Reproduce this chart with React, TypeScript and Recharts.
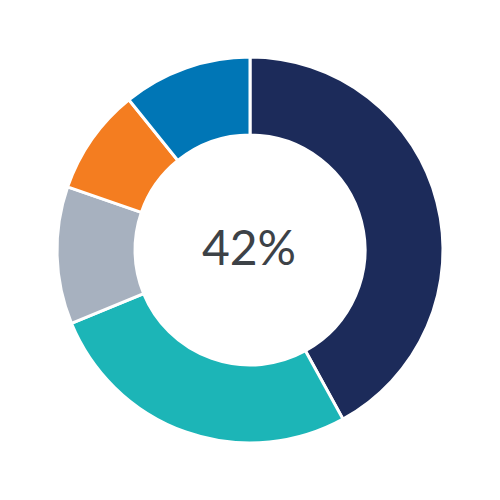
import React from 'react';
import { PieChart, Pie, Cell } from 'recharts';

const segments = ['Navy', 'Teal', 'Gray', 'Orange', 'Blue'];
const shares = [42, 26.8, 11.5, 8.9, 10.8];
const colors = ['#1c2b5a', '#1cb5b7', '#a7b1bf', '#f47d20', '#0076b6'];
const centerLabel = '42%';

const data = segments.map((name, i) => ({ name, value: shares[i] }));

const App: React.FC = () => {
  return (
    <div style={{ position: 'absolute', left: 0, top: 0, width: 500, height: 500, background: '#fff' }}>
      <PieChart width={500} height={500} margin={{ top: 0, right: 0, bottom: 0, left: 0 }}>
        <Pie
          data={data}
          dataKey="value"
          nameKey="name"
          cx={250}
          cy={250}
          innerRadius={115}
          outerRadius={193}
          startAngle={90}
          endAngle={-270}
          stroke="#ffffff"
          strokeWidth={3}
          isAnimationActive={false}
        >
          {data.map((d, i) => (
            <Cell key={d.name} fill={colors[i]} />
          ))}
        </Pie>
        <text
          x={249}
          y={246}
          textAnchor="middle"
          dominantBaseline="central"
          fontFamily="Lato, 'Open Sans', sans-serif"
          fontSize={48}
          fill="#3d4247"
        >
          {centerLabel}
        </text>
      </PieChart>
    </div>
  );
};

export default App;
